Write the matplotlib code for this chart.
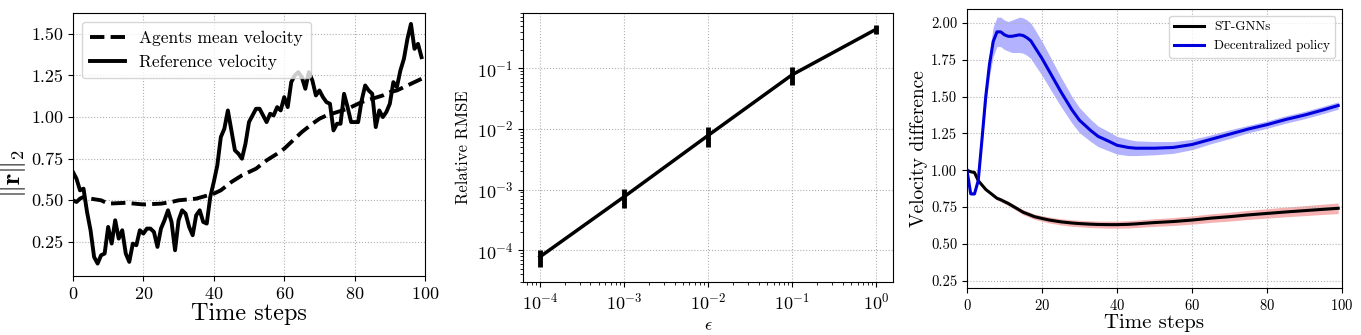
import matplotlib
matplotlib.use("Agg")
import matplotlib.pyplot as plt
import numpy as np

plt.rcParams['font.family'] = ['cmr10', 'DejaVu Serif']
plt.rcParams['mathtext.fontset'] = 'cm'
plt.rcParams['axes.formatter.use_mathtext'] = True
plt.rcParams['axes.unicode_minus'] = False

# --- panel 1: reference vs agents mean velocity
ref_vel = [0.67, 0.63, 0.56, 0.57, 0.43, 0.32, 0.16, 0.12, 0.17, 0.18,
           0.34, 0.24, 0.38, 0.27, 0.32, 0.18, 0.13, 0.24, 0.23, 0.32,
           0.30, 0.33, 0.33, 0.31, 0.22, 0.33, 0.38, 0.44, 0.37, 0.20,
           0.38, 0.44, 0.42, 0.34, 0.29, 0.41, 0.44, 0.37, 0.36, 0.52,
           0.61, 0.71, 0.88, 0.93, 1.04, 0.92, 0.80, 0.78, 0.75, 0.84,
           0.97, 1.01, 1.05, 1.05, 1.01, 0.97, 1.02, 1.01, 1.06, 1.04,
           1.12, 1.06, 1.21, 1.25, 1.27, 1.24, 1.17, 1.27, 1.22, 1.13,
           1.16, 1.12, 1.09, 1.08, 0.92, 0.96, 0.96, 1.14, 1.06, 0.97,
           0.97, 0.97, 1.10, 1.19, 1.16, 1.14, 0.94, 1.04, 1.00, 1.03,
           1.08, 1.21, 1.18, 1.28, 1.35, 1.47, 1.56, 1.41, 1.44, 1.36]
mean_steps = [0, 1, 2, 3, 5, 8, 10, 15, 20, 25, 28, 30, 35, 40, 42, 45, 48, 50,
              52, 55, 58, 60, 62, 65, 68, 70, 72, 75, 78, 80, 82, 85, 88, 90,
              92, 95, 99]
mean_vel = [0.50, 0.49, 0.51, 0.52, 0.51, 0.50, 0.48, 0.485, 0.475, 0.48, 0.49,
            0.50, 0.51, 0.54, 0.56, 0.61, 0.65, 0.67, 0.69, 0.74, 0.78, 0.81,
            0.85, 0.91, 0.96, 0.99, 1.01, 1.03, 1.05, 1.07, 1.09, 1.11, 1.13,
            1.15, 1.16, 1.19, 1.23]

# --- panel 2: relative RMSE vs epsilon
eps = [1e-4, 1e-3, 1e-2, 1e-1, 1e0]
rmse = [7.8e-5, 7.6e-4, 7.8e-3, 7.8e-2, 0.44]
rmse_err = [2.5e-5, 2.7e-4, 2.8e-3, 2.5e-2, 0.07]

# --- panel 3: velocity difference
t3 = [0, 1, 2, 3, 4, 5, 6, 7, 8, 9, 10, 11, 12, 13, 14, 15, 16, 17, 18, 20,
      22, 25, 28, 30, 33, 35, 38, 40, 43, 45, 50, 55, 60, 65, 70, 75, 80, 85,
      90, 95, 99]
dec_mean = [1.00, 0.84, 0.84, 0.93, 1.21, 1.50, 1.72, 1.875, 1.94, 1.94, 1.92,
            1.91, 1.91, 1.915, 1.92, 1.915, 1.90, 1.88, 1.84, 1.76, 1.67, 1.535,
            1.41, 1.34, 1.27, 1.23, 1.195, 1.17, 1.155, 1.15, 1.15, 1.155, 1.175,
            1.21, 1.245, 1.28, 1.31, 1.345, 1.375, 1.41, 1.44]
dec_std = [0.0, 0.01, 0.01, 0.02, 0.04, 0.06, 0.08, 0.10, 0.10, 0.10, 0.10,
           0.10, 0.11, 0.115, 0.12, 0.12, 0.12, 0.12, 0.12, 0.115, 0.11, 0.10,
           0.09, 0.085, 0.075, 0.07, 0.065, 0.06, 0.055, 0.05, 0.045, 0.04,
           0.035, 0.03, 0.03, 0.025, 0.025, 0.025, 0.025, 0.025, 0.025]
gnn_mean = [1.00, 0.99, 0.985, 0.93, 0.90, 0.87, 0.85, 0.83, 0.81, 0.80, 0.787,
            0.775, 0.76, 0.745, 0.73, 0.715, 0.705, 0.695, 0.685, 0.673, 0.662,
            0.65, 0.642, 0.638, 0.634, 0.632, 0.631, 0.631, 0.633, 0.636, 0.645,
            0.652, 0.662, 0.675, 0.685, 0.697, 0.707, 0.717, 0.726, 0.735, 0.742]
gnn_std = [0.0, 0.002, 0.004, 0.006, 0.008, 0.01, 0.01, 0.012, 0.012, 0.013,
           0.014, 0.015, 0.015, 0.016, 0.016, 0.017, 0.017, 0.018, 0.018, 0.019,
           0.02, 0.021, 0.022, 0.022, 0.023, 0.023, 0.024, 0.024, 0.025, 0.025,
           0.026, 0.027, 0.028, 0.029, 0.03, 0.031, 0.032, 0.033, 0.034, 0.035,
           0.036]

fig = plt.figure(figsize=(13.61, 3.35), dpi=100)
ax1 = fig.add_axes([0.0536, 0.176, 0.2587, 0.785])
ax2 = fig.add_axes([0.3843, 0.158, 0.2719, 0.803])
ax3 = fig.add_axes([0.7105, 0.140, 0.2755, 0.833])

grid_kw = dict(linestyle=':', color='#b0b0b0', linewidth=0.8)

# panel 1
ax1.plot(mean_steps, mean_vel, 'k--', lw=2.8, label='Agents mean velocity')
ax1.plot(range(len(ref_vel)), ref_vel, 'k-', lw=2.8, label='Reference velocity')
ax1.set_xlim(0, 100)
ax1.set_ylim(0.045, 1.625)
ax1.set_yticks([0.25, 0.5, 0.75, 1.0, 1.25, 1.5])
ax1.set_yticklabels(['0.25', '0.50', '0.75', '1.00', '1.25', '1.50'])
ax1.set_xticks([0, 20, 40, 60, 80, 100])
ax1.tick_params(labelsize=13)
ax1.set_xlabel('Time steps', fontsize=17.5, labelpad=1)
ax1.set_ylabel(r'$\|\mathbf{r}\|_2$', fontsize=19)
ax1.yaxis.set_label_coords(-0.128, 0.39)
ax1.grid(True, **grid_kw)
ax1.legend(loc='upper left', fontsize=12.5, handlelength=2.0, borderpad=0.5)

# panel 2
ax2.errorbar(eps, rmse, yerr=rmse_err, color='k', lw=2.5, elinewidth=3.5,
             capsize=0)
ax2.set_xscale('log')
ax2.set_yscale('log')
ax2.set_ylim(3e-5, 0.81)
ax2.tick_params(labelsize=13)
ax2.set_xlabel(r'$\epsilon$', fontsize=13)
ax2.set_ylabel('Relative RMSE', fontsize=12)
ax2.grid(True, **grid_kw)

# panel 3
ax3.fill_between(t3, np.array(gnn_mean) - np.array(gnn_std),
                 np.array(gnn_mean) + np.array(gnn_std),
                 color='#f08080', alpha=0.6, lw=0)
ax3.fill_between(t3, np.array(dec_mean) - np.array(dec_std),
                 np.array(dec_mean) + np.array(dec_std),
                 color='#6666ff', alpha=0.5, lw=0)
ax3.plot(t3, gnn_mean, color='k', lw=2.2, label='ST-GNNs')
ax3.plot(t3, dec_mean, color='#0000dd', lw=2.2, label='Decentralized policy')
ax3.set_xlim(0, 100)
ax3.set_ylim(0.2, 2.095)
ax3.set_yticks([0.25, 0.5, 0.75, 1.0, 1.25, 1.5, 1.75, 2.0])
ax3.set_yticklabels(['0.25', '0.50', '0.75', '1.00', '1.25', '1.50', '1.75', '2.00'])
ax3.set_xticks([0, 20, 40, 60, 80, 100])
ax3.tick_params(labelsize=10.5)
ax3.set_xlabel('Time steps', fontsize=15, labelpad=1)
ax3.set_ylabel('Velocity difference', fontsize=14, labelpad=2)
ax3.grid(True, **grid_kw)
ax3.legend(loc='upper right', fontsize=9.5, handlelength=2.2)

fig.savefig('out.png', dpi=100)
